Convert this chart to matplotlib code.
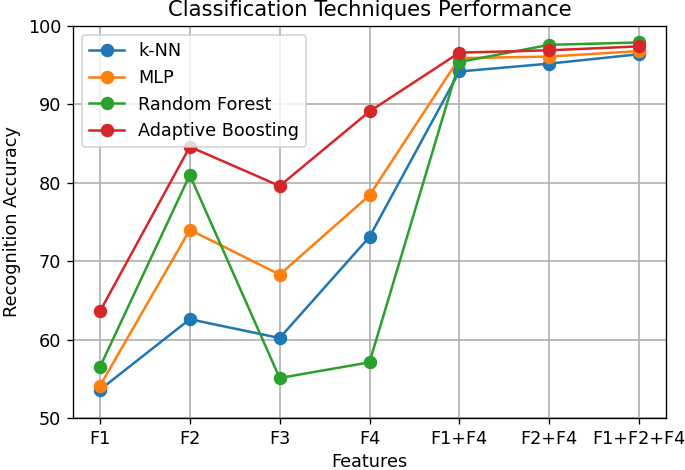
import matplotlib
matplotlib.use("Agg")
import matplotlib.pyplot as plt

# data
features = ["F1", "F2", "F3", "F4", "F1+F4", "F2+F4", "F1+F2+F4"]
knn = [53.6, 62.6, 60.2, 73.1, 94.2, 95.2, 96.4]
mlp = [54.1, 74.0, 68.3, 78.4, 95.9, 96.1, 96.8]
random_forest = [56.5, 81.0, 55.1, 57.1, 95.4, 97.6, 97.9]
adaboost = [63.6, 84.6, 79.6, 89.1, 96.6, 96.9, 97.4]

plt.rcParams["font.size"] = 10.5

DPI = 121
fig = plt.figure(figsize=(685 / DPI, 470 / DPI), dpi=DPI)
ax = fig.add_axes([73 / 685, 1 - 418 / 470, (666 - 73) / 685, (418 - 26) / 470])

ax.plot(features, knn, marker="o", markersize=7, label="k-NN")
ax.plot(features, mlp, marker="o", markersize=7, label="MLP")
ax.plot(features, random_forest, marker="o", markersize=7, label="Random Forest")
ax.plot(features, adaboost, marker="o", markersize=7, label="Adaptive Boosting")

ax.set_ylim(50, 100)
ax.set_title("Classification Techniques Performance")
ax.set_xlabel("Features", labelpad=3)
ax.set_ylabel("Recognition Accuracy")
ax.grid(True, linewidth=1.0)
ax.legend(loc="upper left")

fig.savefig("out.png", dpi=DPI)
